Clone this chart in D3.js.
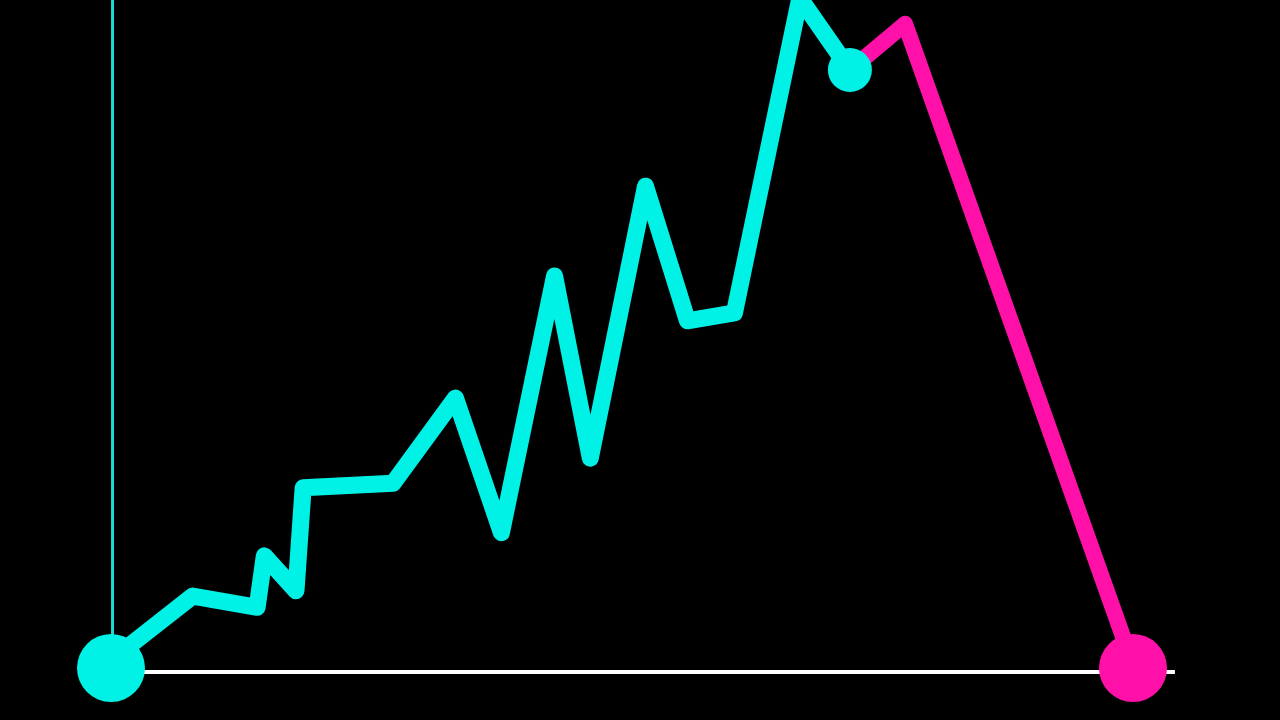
<!DOCTYPE html>
<html>
<head>
<meta charset="utf-8">
<script src="https://cdn.jsdelivr.net/npm/d3@7"></script>
<style>
  html, body { margin: 0; padding: 0; background: #000; }
  svg { display: block; }
</style>
</head>
<body>
<svg id="chart" width="1280" height="720"></svg>
<script>
// rising series (cyan)
const riseX = [0, 8.0, 14.3, 15.0, 18.1, 18.8, 27.6, 33.7, 38.2, 43.4, 46.9, 52.3, 56.4, 61.0, 67.4, 72.3];
const riseY = [1.2, 10.9, 9.2, 17.0, 11.7, 27.3, 28.0, 40.9, 20.5, 59.4, 31.8, 73.0, 52.6, 53.8, 101.5, 90.6];
// crash series (magenta)
const fallX = [72.3, 77.7, 100];
const fallY = [90.6, 97.6, 0.5];

const width = 1280, height = 720;
const svg = d3.select('#chart');

svg.append('rect')
  .attr('width', width)
  .attr('height', height)
  .attr('fill', '#000');

// scales
const x = d3.scaleLinear().domain([0, 100]).range([111, 1133]);
const y = d3.scaleLinear().domain([0, 100]).range([668, 8]);

const line = d3.line()
  .x(d => x(d[0]))
  .y(d => y(d[1]));

const rise = riseX.map((v, i) => [v, riseY[i]]);
const fall = fallX.map((v, i) => [v, fallY[i]]);

// axes as plain domain lines
svg.append('path')
  .attr('d', line([[0.15, -0.6], [0.15, 101.5]]))
  .attr('stroke', '#22d8d4')
  .attr('stroke-width', 3)
  .attr('fill', 'none');

svg.append('path')
  .attr('d', line([[0, -0.6], [104.1, -0.6]]))
  .attr('stroke', '#ffffff')
  .attr('stroke-width', 4)
  .attr('fill', 'none');

// series lines
svg.append('path')
  .attr('d', line(rise))
  .attr('stroke', '#00f2e6')
  .attr('stroke-width', 17)
  .attr('stroke-linejoin', 'round')
  .attr('stroke-linecap', 'round')
  .attr('fill', 'none');

svg.append('path')
  .attr('d', line(fall))
  .attr('stroke', '#ff10a8')
  .attr('stroke-width', 16)
  .attr('stroke-linejoin', 'round')
  .attr('fill', 'none');

// dots
svg.append('circle')
  .attr('cx', x(riseX[0]))
  .attr('cy', y(0))
  .attr('r', 34)
  .attr('fill', '#00f2e6');

svg.append('circle')
  .attr('cx', x(riseX[riseX.length - 1]))
  .attr('cy', y(riseY[riseY.length - 1]))
  .attr('r', 22)
  .attr('fill', '#00f2e6');

svg.append('circle')
  .attr('cx', x(fallX[fallX.length - 1]))
  .attr('cy', y(0))
  .attr('r', 34)
  .attr('fill', '#ff10a8');
</script>
</body>
</html>
